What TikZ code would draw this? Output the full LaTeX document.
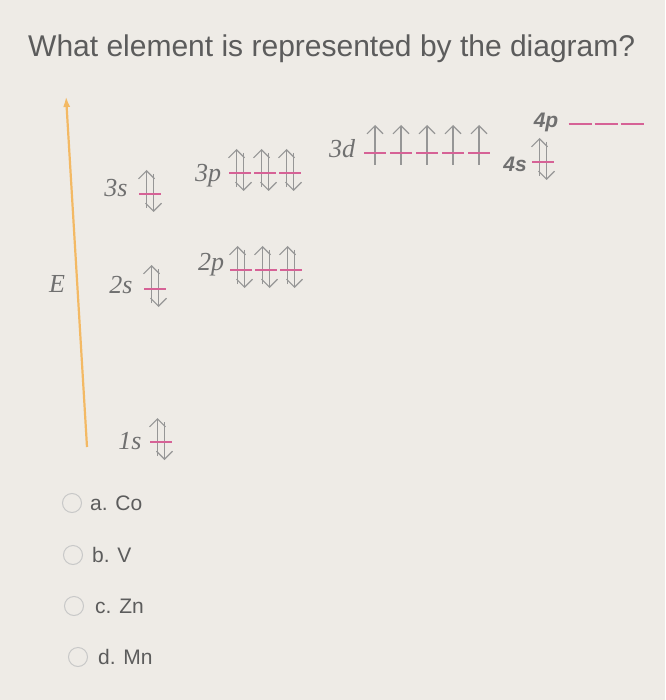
\documentclass[tikz,border=0pt]{standalone}
\usepackage{fontspec}
\setmainfont{Liberation Serif}
\newfontfamily\arial{Liberation Sans}
\usetikzlibrary{arrows.meta}
\definecolor{bg}{RGB}{238,235,230}
\definecolor{txt}{RGB}{92,92,92}
\definecolor{lbl}{RGB}{112,112,112}
\definecolor{spingrey}{RGB}{150,150,150}
\definecolor{pinkc}{RGB}{214,98,150}
\definecolor{axisc}{RGB}{243,185,100}
\definecolor{circc}{RGB}{200,200,200}
\tikzset{
  pinkline/.style={draw=pinkc, line width=2.6pt},
  spin/.style={draw=spingrey, line width=1.1pt, -{Straight Barb[length=8pt,width=16pt]}},
  pairorb/.pic={
    \draw[spin] (-3.5,14) -- (-3.5,-24);
    \draw[spin] (3.5,-20) -- (3.5,18);
    \draw[pinkline] (-11,0) -- (11,0);
  },
  uporb/.pic={
    \draw[spin] (0,12) -- (0,-28);
    \draw[pinkline] (-11,0) -- (11,0);
  },
  emptyorb/.pic={
    \draw[pinkline] (-11.5,0) -- (11.5,0);
  },
  serlab/.style={text=lbl, font=\fontsize{26}{30}\selectfont\itshape, inner sep=0pt},
  sanlab/.style={text=lbl, font=\arial\fontsize{21}{24}\selectfont\bfseries\itshape, inner sep=0pt},
  opt/.style={text=txt, font=\arial\fontsize{21}{24}\selectfont, inner sep=0pt, anchor=west},
  radio/.style={circle, draw=circc, line width=1pt, minimum size=19pt, inner sep=0pt},
  axisline/.style={draw=axisc, line width=2.2pt, -{Latex[length=11pt,width=7pt]}},
}
\begin{document}
\begin{tikzpicture}[x=1pt,y=-1pt]
\fill[bg] (0,0) rectangle (665,700);
\useasboundingbox (0,0) rectangle (665,700);
\node[text=txt, font=\arial\fontsize{30}{34}\selectfont, anchor=base west, inner sep=0pt] (title) at (28,57) {What element is represented by the diagram?};
% axis
\coordinate (axbot) at (87,447);
\coordinate (axtop) at (66,96);
\draw[axisline] (axbot) -- (axtop);
\node[serlab] (E) at (57,284) {E};
% 1s
\node[serlab] (l1s) at (130,441) {1s};
\pic at (161,442) {pairorb};
% 2s
\node[serlab] (l2s) at (121,285) {2s};
\pic at (155,289) {pairorb};
% 2p
\node[serlab] (l2p) at (211,265) {2p};
\pic at (241,270) {pairorb};
\pic at (266,270) {pairorb};
\pic at (291,270) {pairorb};
% 3s
\node[serlab] (l3s) at (116,188) {3s};
\pic at (150,194) {pairorb};
% 3p
\node[serlab] (l3p) at (208,176) {3p};
\pic at (240,173) {pairorb};
\pic at (265,173) {pairorb};
\pic at (290,173) {pairorb};
% 3d
\node[serlab] (l3d) at (342,149) {3d};
\pic at (375,153) {uporb};
\pic at (401,153) {uporb};
\pic at (427,153) {uporb};
\pic at (453,153) {uporb};
\pic at (479,153) {uporb};
% 4s
\node[sanlab] (l4s) at (515,164) {4s};
\pic at (543,162) {pairorb};
% 4p
\node[sanlab] (l4p) at (546,122) {4p};
\pic at (580,124) {emptyorb};
\pic at (606,124) {emptyorb};
\pic at (632,124) {emptyorb};
% options
\node[radio] (ra) at (72,503) {};
\node[opt] (ta) at (90,503) {a. Co};
\node[radio] (rb) at (73,555) {};
\node[opt] (tb) at (92,555) {b. V};
\node[radio] (rc) at (74,606) {};
\node[opt] (tc) at (95,606) {c. Zn};
\node[radio] (rd) at (78,657) {};
\node[opt] (td) at (98,657) {d. Mn};
\end{tikzpicture}
\end{document}
